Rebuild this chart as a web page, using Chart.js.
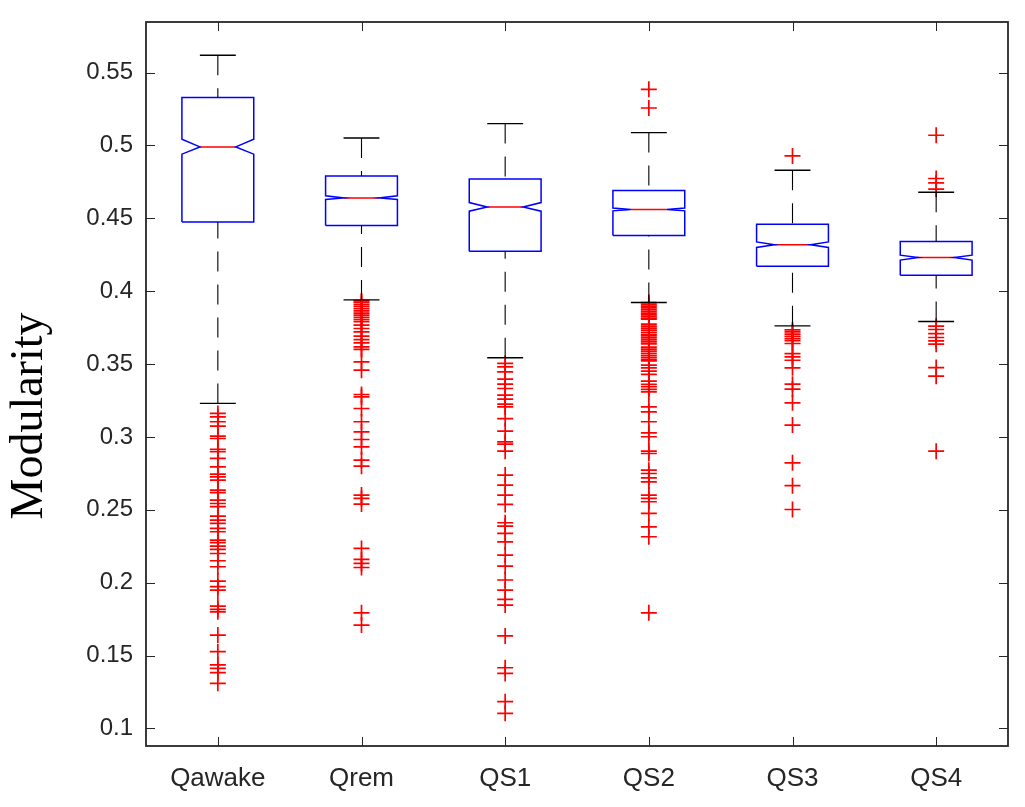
<!DOCTYPE html>
<html>
<head>
<meta charset="utf-8">
<script src="https://cdn.jsdelivr.net/npm/chart.js@4.4.1/dist/chart.umd.min.js"></script>
<style>
  html, body { margin: 0; padding: 0; background: #ffffff; }
  #wrap { width: 1025px; height: 807px; position: relative; }
</style>
</head>
<body>
<div id="wrap"><canvas id="c" width="1025" height="807"></canvas></div>
<script>
// ---- data ----
const categories = ['Qawake', 'Qrem', 'QS1', 'QS2', 'QS3', 'QS4'];
const upperWhisker = [0.5619, 0.5051, 0.5150, 0.5088, 0.4830, 0.4679];
const q3          = [0.5329, 0.4791, 0.4770, 0.4691, 0.4460, 0.4341];
const notchHigh   = [0.5042, 0.4654, 0.4608, 0.4571, 0.4338, 0.4247];
const medians     = [0.4990, 0.4640, 0.4578, 0.4560, 0.4318, 0.4231];
const notchLow    = [0.4940, 0.4629, 0.4549, 0.4551, 0.4300, 0.4213];
const q1          = [0.4475, 0.4451, 0.4274, 0.4382, 0.4171, 0.4109];
const lowerWhisker= [0.3230, 0.3940, 0.3543, 0.3922, 0.3762, 0.3792];

const outliersQawake = [0.3161, 0.3138, 0.3104, 0.3074, 0.3005, 0.2989, 0.2914, 0.2898, 0.2852, 0.2795,
  0.2745, 0.2726, 0.2703, 0.2635, 0.2617, 0.2566, 0.2543, 0.2521, 0.2457, 0.2429, 0.2406, 0.2372,
  0.2349, 0.2292, 0.2274, 0.2251, 0.2228, 0.2200, 0.2150, 0.2109, 0.2011, 0.1972, 0.1949, 0.1839,
  0.1816, 0.1800, 0.1640, 0.1526, 0.1435, 0.1412, 0.1382, 0.1309];
const outliersQrem = [0.3935, 0.3925, 0.3910, 0.3895, 0.3880, 0.3865, 0.3850, 0.3835, 0.3820, 0.3805,
  0.3790, 0.3767, 0.3744, 0.3721, 0.3691, 0.3668, 0.3645, 0.3618, 0.3600, 0.3515, 0.3458, 0.3291,
  0.3275, 0.3195, 0.3104, 0.3035, 0.2982, 0.2932, 0.2841, 0.2799, 0.2601, 0.2578, 0.2539, 0.2235,
  0.2159, 0.2132, 0.2104, 0.1793, 0.1709];
const outliersQS1 = [0.3504, 0.3481, 0.3446, 0.3396, 0.3362, 0.3332, 0.3286, 0.3259, 0.3225, 0.3206,
  0.3126, 0.3040, 0.2966, 0.2950, 0.2902, 0.2738, 0.2669, 0.2601, 0.2537, 0.2411, 0.2388, 0.2338,
  0.2280, 0.2189, 0.2113, 0.2018, 0.1949, 0.1885, 0.1846, 0.1634, 0.1416, 0.1377, 0.1183, 0.1103];
const outliersQS2 = [0.5385, 0.5257,
  0.3922, 0.3910, 0.3898, 0.3886, 0.3874, 0.3862, 0.3850, 0.3838, 0.3826, 0.3814, 0.3808,
  0.3774, 0.3760, 0.3746, 0.3732, 0.3718, 0.3704, 0.3693, 0.3680, 0.3666, 0.3652, 0.3638,
  0.3616, 0.3602, 0.3588, 0.3574, 0.3560, 0.3546, 0.3532, 0.3522, 0.3492, 0.3474, 0.3451, 0.3429,
  0.3383, 0.3360, 0.3344, 0.3326, 0.3309, 0.3206, 0.3172, 0.3104, 0.3028, 0.3001, 0.2902, 0.2886,
  0.2772, 0.2749, 0.2719, 0.2692, 0.2601, 0.2578, 0.2555, 0.2475, 0.2383, 0.2315, 0.1793];
const outliersQS3 = [0.4928, 0.3735, 0.3720, 0.3705, 0.3690, 0.3675, 0.3660, 0.3641, 0.3572, 0.3549,
  0.3526, 0.3474, 0.3362, 0.3328, 0.3234, 0.3081, 0.2822, 0.2665, 0.2502];
const outliersQS4 = [0.5070, 0.4773, 0.4743, 0.4700, 0.3760, 0.3737, 0.3709, 0.3682, 0.3659, 0.3636,
  0.3476, 0.3417, 0.2902];
const outliers = [outliersQawake, outliersQrem, outliersQS1, outliersQS2, outliersQS3, outliersQS4];

const yTicks = [0.1, 0.15, 0.2, 0.25, 0.3, 0.35, 0.4, 0.45, 0.5, 0.55];
const yTitle = 'Modularity';
const yMin = 0.0879, yMax = 0.5847;

// ---- style ----
const BOX_HALF = 0.25, NOTCH_HALF = 0.125, CAP_HALF = 0.125;
const FONT_SANS = "'Liberation Sans', Arial, Helvetica, sans-serif";
const FONT_SERIF = "'Liberation Serif', 'Times New Roman', serif";
const AXIS_COLOR = '#262626';

const lineBase = { type: 'scatter', showLine: true, pointRadius: 0, pointHoverRadius: 0, fill: false, tension: 0 };
const datasets = [];
categories.forEach((c, i) => {
  const x = i + 1;
  datasets.push(Object.assign({}, lineBase, {
    data: [{x: x, y: upperWhisker[i]}, {x: x, y: q3[i]}],
    borderColor: '#000000', borderWidth: 1.1, borderDash: [20, 13]
  }));
  datasets.push(Object.assign({}, lineBase, {
    data: [{x: x, y: lowerWhisker[i]}, {x: x, y: q1[i]}],
    borderColor: '#000000', borderWidth: 1.1, borderDash: [20, 13]
  }));
  datasets.push(Object.assign({}, lineBase, {
    data: [{x: x - CAP_HALF, y: upperWhisker[i]}, {x: x + CAP_HALF, y: upperWhisker[i]}],
    borderColor: '#000000', borderWidth: 1.4
  }));
  datasets.push(Object.assign({}, lineBase, {
    data: [{x: x - CAP_HALF, y: lowerWhisker[i]}, {x: x + CAP_HALF, y: lowerWhisker[i]}],
    borderColor: '#000000', borderWidth: 1.4
  }));
  datasets.push(Object.assign({}, lineBase, {
    data: [
      {x: x - BOX_HALF, y: q1[i]}, {x: x + BOX_HALF, y: q1[i]},
      {x: x + BOX_HALF, y: notchLow[i]}, {x: x + NOTCH_HALF, y: medians[i]},
      {x: x + BOX_HALF, y: notchHigh[i]}, {x: x + BOX_HALF, y: q3[i]},
      {x: x - BOX_HALF, y: q3[i]}, {x: x - BOX_HALF, y: notchHigh[i]},
      {x: x - NOTCH_HALF, y: medians[i]}, {x: x - BOX_HALF, y: notchLow[i]},
      {x: x - BOX_HALF, y: q1[i]}
    ],
    borderColor: '#0000FF', borderWidth: 1.5, borderJoinStyle: 'miter'
  }));
  datasets.push(Object.assign({}, lineBase, {
    data: [{x: x - NOTCH_HALF, y: medians[i]}, {x: x + NOTCH_HALF, y: medians[i]}],
    borderColor: '#FF0000', borderWidth: 1.5
  }));
});
categories.forEach((c, i) => {
  datasets.push({
    type: 'scatter', showLine: false,
    data: outliers[i].map(v => ({x: i + 1, y: v})),
    pointStyle: 'cross', pointRadius: 8, pointHoverRadius: 8,
    borderColor: '#FF0000', backgroundColor: '#FF0000', borderWidth: 1.7
  });
});

const framePlugin = {
  id: 'frame',
  afterDatasetsDraw(chart) {
    const {ctx, chartArea: a, scales} = chart;
    ctx.save();
    ctx.strokeStyle = AXIS_COLOR;
    ctx.lineWidth = 1;
    const TL = 9;
    ctx.beginPath();
    scales.y.ticks.forEach(t => {
      const py = Math.round(scales.y.getPixelForValue(t.value)) + 0.5;
      ctx.moveTo(a.left, py); ctx.lineTo(a.left + TL, py);
      ctx.moveTo(a.right, py); ctx.lineTo(a.right - TL, py);
    });
    scales.x.ticks.forEach(t => {
      const px = Math.round(scales.x.getPixelForValue(t.value)) + 0.5;
      ctx.moveTo(px, a.top); ctx.lineTo(px, a.top + TL);
      ctx.moveTo(px, a.bottom); ctx.lineTo(px, a.bottom - TL);
    });
    ctx.stroke();
    ctx.lineWidth = 1.8;
    ctx.strokeRect(a.left, a.top, a.right - a.left, a.bottom - a.top);
    ctx.fillStyle = '#000000';
    ctx.font = '46px ' + FONT_SERIF;
    ctx.textAlign = 'center';
    ctx.textBaseline = 'middle';
    ctx.translate(30, 416);
    ctx.rotate(-Math.PI / 2);
    ctx.fillText(yTitle, 0, 0);
    ctx.restore();
  }
};

new Chart(document.getElementById('c'), {
  type: 'scatter',
  data: { datasets },
  options: {
    responsive: false,
    animation: false,
    events: [],
    layout: { padding: { top: 22, right: 17, left: 0, bottom: 0 } },
    plugins: { legend: { display: false }, tooltip: { enabled: false }, title: { display: false } },
    scales: {
      x: {
        type: 'linear', min: 0.5, max: 6.5,
        afterBuildTicks: s => { s.ticks = categories.map((c, i) => ({ value: i + 1 })); },
        afterFit: s => { s.height = 61; s.paddingLeft = 0; s.paddingRight = 0; },
        ticks: {
          callback: v => categories[Math.round(v) - 1],
          font: { family: FONT_SANS, size: 26 }, color: AXIS_COLOR,
          padding: 17, maxRotation: 0, autoSkip: false
        },
        grid: { display: false, drawTicks: false },
        border: { display: false }
      },
      y: {
        type: 'linear', min: yMin, max: yMax,
        afterBuildTicks: s => { s.ticks = yTicks.map(v => ({ value: v })); },
        afterFit: s => { s.width = 146; s.paddingTop = 0; s.paddingBottom = 0; },
        ticks: {
          callback: v => String(+(+v).toFixed(2)),
          font: { family: FONT_SANS, size: 24 }, color: AXIS_COLOR,
          padding: 13, autoSkip: false
        },
        grid: { display: false, drawTicks: false },
        border: { display: false }
      }
    }
  },
  plugins: [framePlugin]
});
</script>
</body>
</html>
